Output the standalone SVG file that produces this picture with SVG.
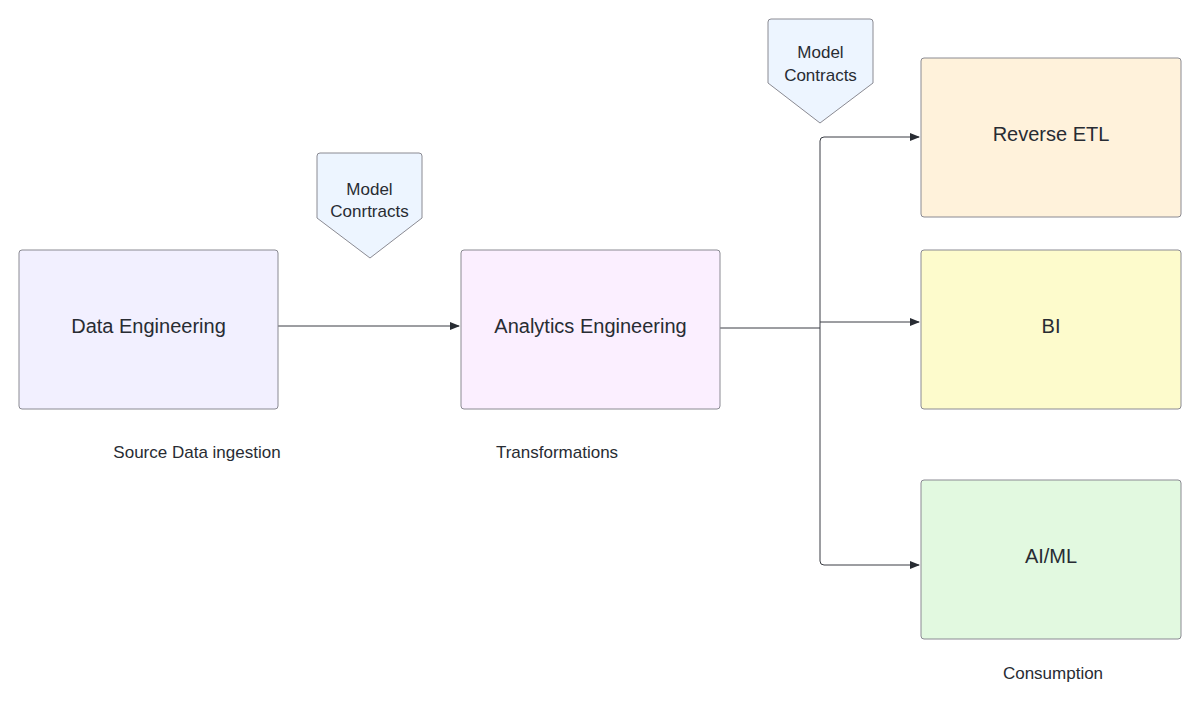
<svg xmlns="http://www.w3.org/2000/svg" width="1200" height="708" viewBox="0 0 1200 708">
<style>
.box{stroke:#8a8a92;stroke-width:1}
.t{font-family:"Liberation Sans",Arial,sans-serif;fill:#282c33;text-anchor:middle}
.big{font-size:20px}
.sm{font-size:17px}
.c{fill:none;stroke:#3a3d44;stroke-width:1}
</style>
<defs><marker id="a" markerWidth="10" markerHeight="8" refX="9" refY="4" orient="auto" markerUnits="userSpaceOnUse"><path d="M0,0 L10,4 L0,8 z" fill="#282c33"/></marker></defs>
<rect width="1200" height="708" fill="#fff"/>
<g id="connectors">
<path class="c" d="M278,326 H459" marker-end="url(#a)"/>
<path class="c" d="M720,328 H820"/>
<path class="c" d="M820,328 V141 Q820,137 824,137 H919" marker-end="url(#a)"/>
<path class="c" d="M820,322 H919" marker-end="url(#a)"/>
<path class="c" d="M820,328 V561 Q820,565 824,565 H919" marker-end="url(#a)"/>
</g>
<g id="de"><rect class="box" x="19" y="250" width="259" height="159" rx="3" fill="#f2f0ff"/><text class="t big" x="148.5" y="333">Data Engineering</text></g>
<g id="ae"><rect class="box" x="461" y="250" width="259" height="159" rx="3" fill="#fbefff"/><text class="t big" x="590.5" y="333">Analytics Engineering</text></g>
<g id="retl"><rect class="box" x="921" y="58" width="260" height="159" rx="3" fill="#fff2db"/><text class="t big" x="1051" y="141">Reverse ETL</text></g>
<g id="bi"><rect class="box" x="921" y="250" width="260" height="159" rx="3" fill="#fdfbcc"/><text class="t big" x="1051" y="333">BI</text></g>
<g id="aiml"><rect class="box" x="921" y="480" width="260" height="159" rx="3" fill="#e2f9e0"/><text class="t big" x="1051" y="563">AI/ML</text></g>
<g id="mc1"><path class="box" d="M320,153 H419 Q422,153 422,156 V218 L370,258 L317,218 V156 Q317,153 320,153 Z" fill="#edf5ff"/><text class="t sm" x="369.5" y="195">Model</text><text class="t sm" x="369.5" y="217">Conrtracts</text></g>
<g id="mc2"><path class="box" d="M771,19 H870 Q873,19 873,22 V83 L820,123 L768,83 V22 Q768,19 771,19 Z" fill="#edf5ff"/><text class="t sm" x="820.5" y="58">Model</text><text class="t sm" x="820.5" y="81">Contracts</text></g>
<g id="labels">
<text class="t sm" x="197" y="458">Source Data ingestion</text>
<text class="t sm" x="557" y="458">Transformations</text>
<text class="t sm" x="1053" y="679">Consumption</text>
</g>
</svg>
